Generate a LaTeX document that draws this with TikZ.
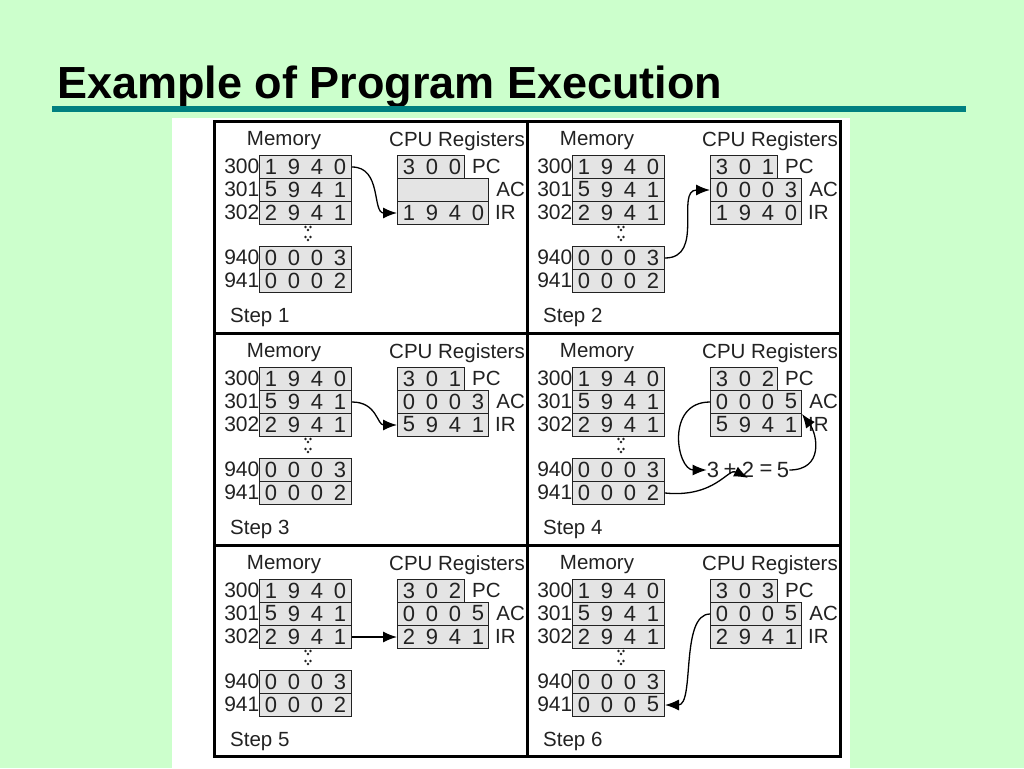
\documentclass[tikz,border=0pt]{standalone}
\usepackage{fontspec}
\setmainfont{Liberation Sans}
\usetikzlibrary{arrows.meta}
\definecolor{bg}{HTML}{CCFFCC}
\definecolor{teal2}{HTML}{008080}
\definecolor{cellfill}{HTML}{E4E4E4}
\definecolor{ink}{HTML}{222222}
\tikzset{
  cellbox/.style={draw=ink, fill=cellfill, line width=1pt, inner sep=0pt, anchor=north west, minimum height=23pt},
  dig/.style={inner sep=0pt, text=ink, font=\fontsize{22}{22}\selectfont},
  lbl/.style={inner sep=0pt, text=ink, font=\fontsize{20.5}{20}\selectfont},
  arr/.style={line width=1.3pt, draw=black, -{Latex[length=14pt,width=11pt]}},
}
\newcommand\mrow[4]{% name, addr, ytop, digits
  \node[cellbox, minimum width=92pt] (#1) at (45,#3) {};
  \node[lbl, anchor=east, font=\fontsize{21}{21}\selectfont] at (45.5,#3+11.5) {#2};
  \foreach \d [count=\i] in {#4} \node[dig] at (45+12+23*\i-23,#3+11.5) {\d};
}
\newcommand\rrow[5]{% name, width, ytop, digits, dummy
  \node[cellbox, minimum width=#2] (#1) at (183,#3) {};
  \foreach \d [count=\i] in {#4} \node[dig] at (183+12+23*\i-23,#3+11.5) {\d};
}
\newcommand\panel[8]{% n, ox, oy, pc, ac, ir, m941, step label
  \begin{scope}[shift={(#2,#3)}]
  \node[lbl] at (70,20) {Memory};
  \node[lbl] at (243,20) {CPU Registers};
  \mrow{s#1a}{300}{34}{1,9,4,0}
  \mrow{s#1b}{301}{57}{5,9,4,1}
  \mrow{s#1c}{302}{80}{2,9,4,1}
  \mrow{s#1d}{940}{125}{0,0,0,3}
  \mrow{s#1e}{941}{148}{#7}
  \foreach \yy in {106,116} {\fill[ink] (91.5,\yy) circle (1.3pt) (96.5,\yy) circle (1.3pt) (94,\yy+3) circle (1.3pt);}
  \rrow{s#1pc}{67pt}{34}{#4}{}
  \rrow{s#1ac}{91pt}{57}{#5}{}
  \rrow{s#1ir}{91pt}{80}{#6}{}
  \node[lbl, anchor=west] at (258,45) {PC};
  \node[lbl, anchor=east] at (311,68) {AC};
  \node[lbl, anchor=west] at (281,91) {IR};
  \node[lbl, anchor=west] at (16,196) {#8};
  \end{scope}
}
\begin{document}
\begin{tikzpicture}[x=1pt,y=-1pt]
\fill[bg] (0,0) rectangle (1024,768);
\useasboundingbox (0,0) rectangle (1024,768);
\node[anchor=base west, inner sep=0pt, font=\fontsize{45}{45}\selectfont\bfseries] (title) at (57,98) {Example of Program Execution};
\draw[teal2, line width=6pt] (52,109) -- (966,109);
\fill[white] (172,118) rectangle (850,768);
\panel{1}{214}{121}{3,0,0}{}{1,9,4,0}{0,0,0,2}{Step 1}
\panel{2}{527}{121}{3,0,1}{0,0,0,3}{1,9,4,0}{0,0,0,2}{Step 2}
\panel{3}{214}{333}{3,0,1}{0,0,0,3}{5,9,4,1}{0,0,0,2}{Step 3}
\panel{4}{527}{333}{3,0,2}{0,0,0,5}{5,9,4,1}{0,0,0,2}{Step 4}
\panel{5}{214}{545}{3,0,2}{0,0,0,5}{2,9,4,1}{0,0,0,2}{Step 5}
\panel{6}{527}{545}{3,0,3}{0,0,0,5}{2,9,4,1}{0,0,0,5}{Step 6}
\draw[line width=3pt] (214,121) rectangle (840,756);
\draw[line width=3pt] (527,121) -- (527,756) (214,333) -- (840,333) (214,545) -- (840,545);
% step 4 equation
\begin{scope}[shift={(527,333)}]
\node[dig] (e3) at (186,137) {3};
\node[dig] (ep) at (203,137) {+};
\node[dig] (e2) at (221,137) {2};
\node[dig] (eq) at (239,137) {=};
\node[dig] (e5) at (256,137) {5};
\end{scope}
% arrows
\draw[arr] (s1a.east) .. controls +(30,0) and +(-25,0) .. (s1ir.west);
\draw[arr] (s2d.east) .. controls +(40,0) and +(-35,0) .. (s2ac.west);
\draw[arr] (s3b.east) .. controls +(25,0) and +(-20,0) .. (s3ir.west);
\draw[arr] (s4ac.west) .. controls +(-45,0) and +(-30,0) .. (e3.west);
\draw[arr] (s4e.east) .. controls +(50,5) and +(-20,-10) .. (e2.south);
\draw[arr] (e5.east) .. controls +(35,0) and +(15,20) .. (s4ac.south east);
\draw[arr] (s5c.east) -- (s5ir.west);
\draw[arr] (s6ac.west) .. controls +(-30,0) and +(30,0) .. (s6e.east);
\end{tikzpicture}
\end{document}
